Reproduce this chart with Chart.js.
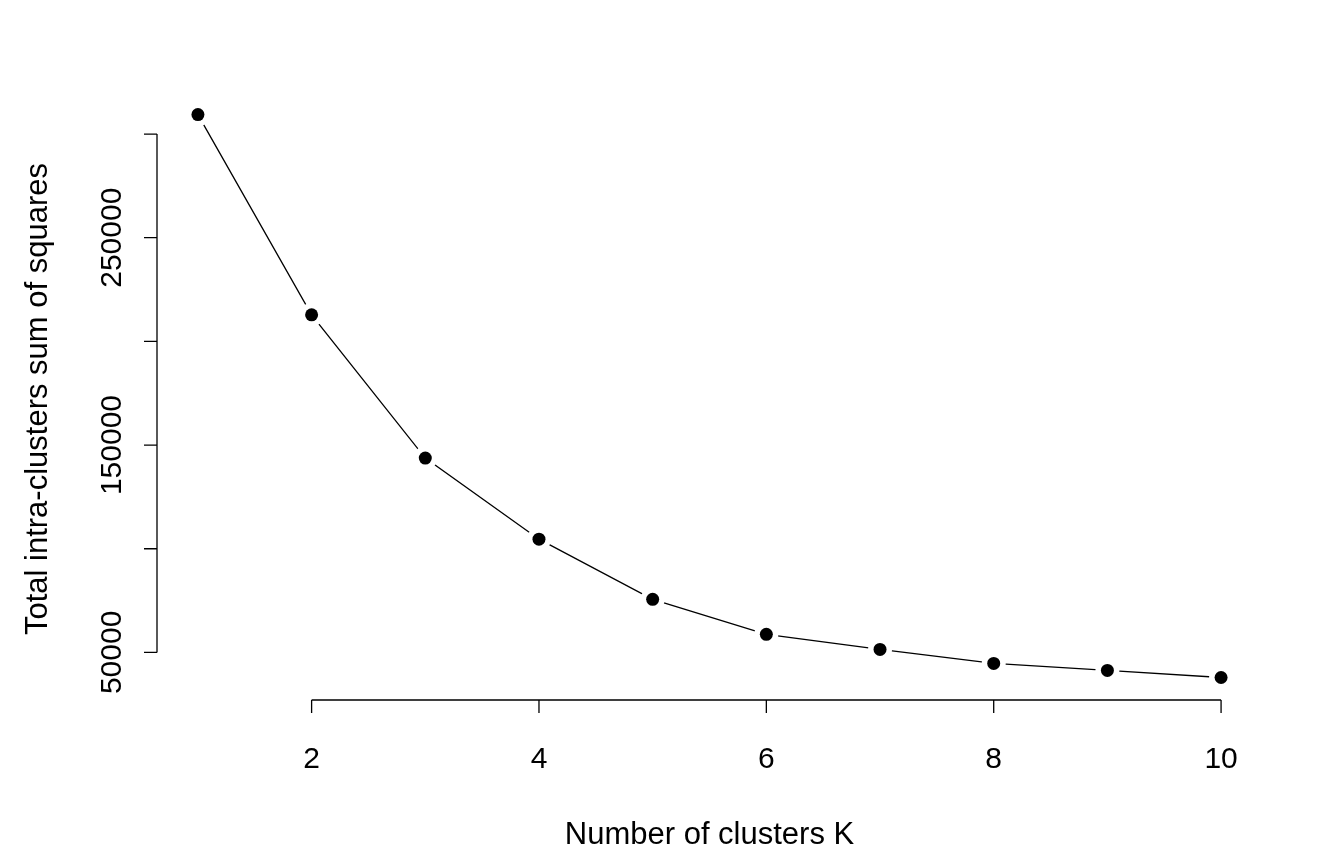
<!DOCTYPE html>
<html><head><meta charset="utf-8">
<script src="https://cdn.jsdelivr.net/npm/chart.js@4"></script>
<style>html,body{margin:0;padding:0;background:#fff}#w{width:1344px;height:863px}</style>
</head><body><div id="w"><canvas id="c"></canvas></div>
<script>
const ks = [1,2,3,4,5,6,7,8,9,10];
const wss = [309400,212800,143700,104600,75600,58700,51450,44700,41300,37900];
const xTicks = [2,4,6,8,10];
const yTicks = [50000,100000,150000,200000,250000,300000];
const yLabelTicks = [50000,150000,250000];
const xTitle = "Number of clusters K";
const yTitle = "Total intra-clusters sum of squares";

const F = "Liberation Sans, Arial, sans-serif";
const axesPlugin = {
  id:'rAxes',
  afterDraw(chart){
    const ctx = chart.ctx, xs = chart.scales.x, ys = chart.scales.y, a = chart.chartArea;
    ctx.save();
    ctx.strokeStyle='#000'; ctx.fillStyle='#000'; ctx.lineWidth=1.3;
    const yb = a.bottom;
    ctx.beginPath();
    ctx.moveTo(xs.getPixelForValue(xTicks[0]), yb);
    ctx.lineTo(xs.getPixelForValue(xTicks[xTicks.length-1]), yb);
    xTicks.forEach(t=>{const p=xs.getPixelForValue(t);ctx.moveTo(p,yb);ctx.lineTo(p,yb+13);});
    ctx.stroke();
    ctx.font='30px '+F; ctx.textAlign='center'; ctx.textBaseline='middle';
    xTicks.forEach(t=>ctx.fillText(String(t), xs.getPixelForValue(t), yb+60));
    const xl = a.left;
    ctx.beginPath();
    ctx.moveTo(xl, ys.getPixelForValue(yTicks[0]));
    ctx.lineTo(xl, ys.getPixelForValue(yTicks[yTicks.length-1]));
    yTicks.forEach(t=>{const p=ys.getPixelForValue(t);ctx.moveTo(xl,p);ctx.lineTo(xl-13,p);});
    ctx.stroke();
    yLabelTicks.forEach(t=>{
      ctx.save(); ctx.translate(xl-44, ys.getPixelForValue(t)); ctx.rotate(-Math.PI/2);
      ctx.fillText(String(t),0,0); ctx.restore();
    });
    ctx.font='31px '+F;
    ctx.fillText(xTitle, (a.left+a.right)/2, 835);
    ctx.save(); ctx.translate(38,(a.top+a.bottom)/2+3); ctx.rotate(-Math.PI/2);
    ctx.fillText(yTitle,0,0); ctx.restore();
    ctx.restore();
  }
};

const pts = ks.map((k,i)=>({x:k,y:wss[i]}));
new Chart(document.getElementById('c'),{
  type:'line',
  data:{datasets:[
    {data:pts, borderColor:'#000', borderWidth:1.3, tension:0, pointRadius:0, order:3},
    {data:pts, showLine:false, pointRadius:12, pointBackgroundColor:'#fff', pointBorderWidth:0, pointHoverRadius:12, order:2},
    {data:pts, showLine:false, pointRadius:6.5, pointBackgroundColor:'#000', pointBorderColor:'#000', pointBorderWidth:0, pointHoverRadius:6.5, order:1}
  ]},
  options:{
    responsive:true, maintainAspectRatio:false, animation:false,
    layout:{padding:{left:157,right:82,top:92,bottom:163}},
    plugins:{legend:{display:false},tooltip:{enabled:false}},
    scales:{
      x:{type:'linear',min:0.64,max:10.36,display:false},
      y:{type:'linear',min:27040,max:320280,display:false}
    }
  },
  plugins:[axesPlugin]
});
</script></body></html>
